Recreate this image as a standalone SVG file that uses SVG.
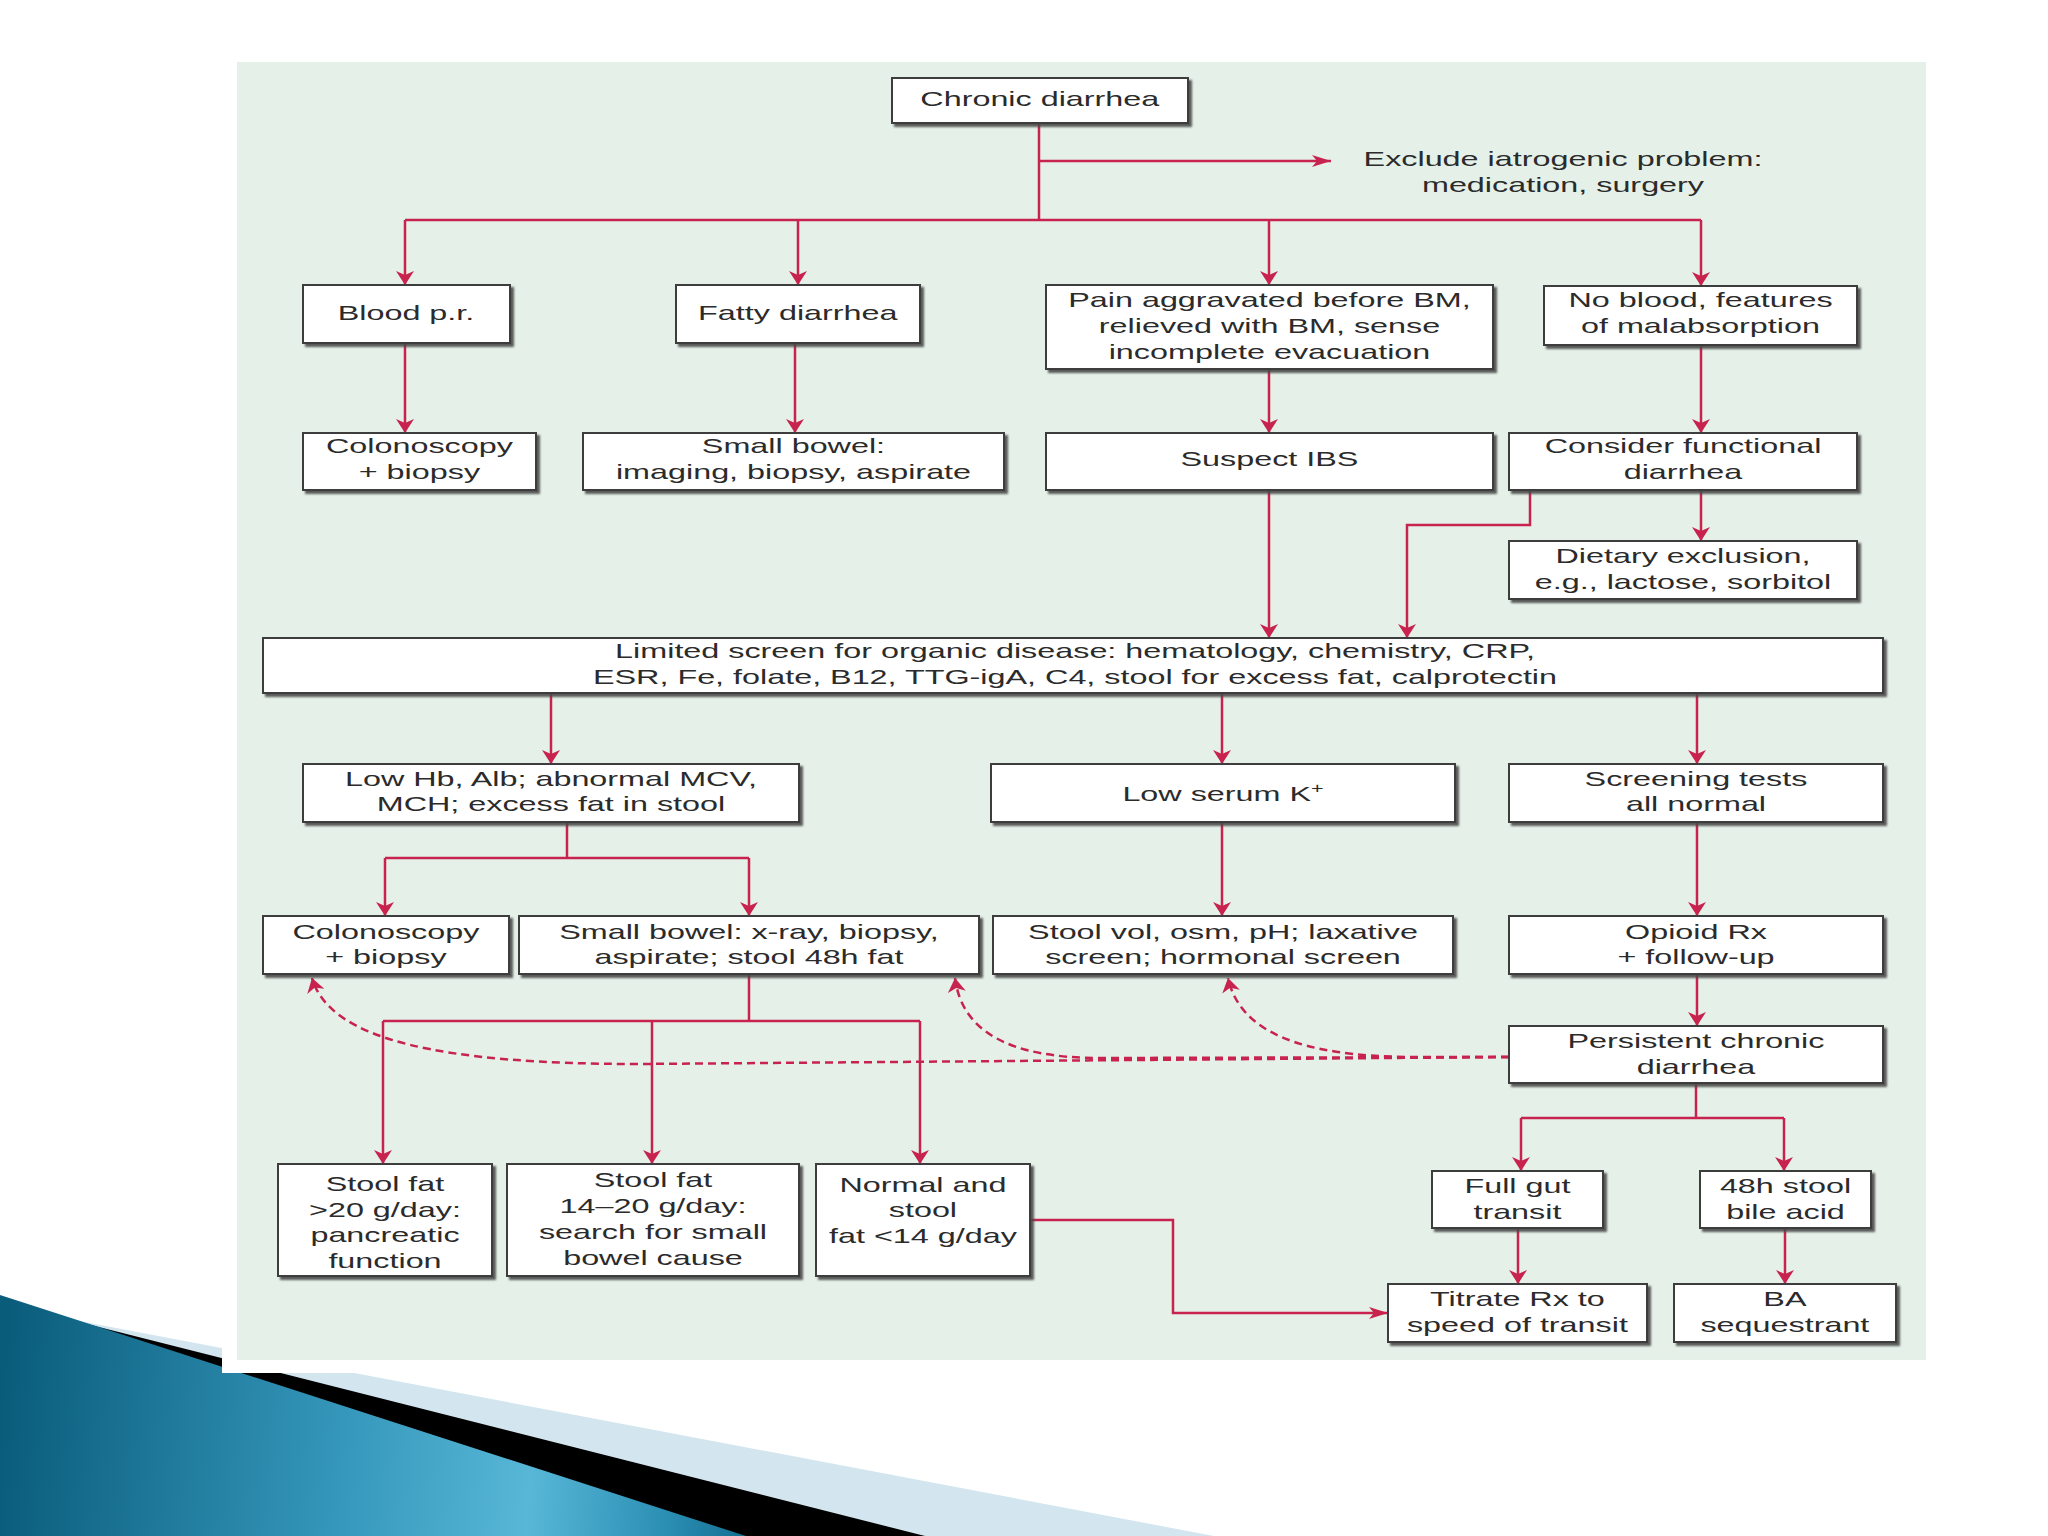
<svg xmlns="http://www.w3.org/2000/svg" width="2048" height="1536" viewBox="0 0 2048 1536">
<defs>
<style>
.t { font-family: "Liberation Sans", Arial, Helvetica, sans-serif; font-size: 21px; fill: #2b2b2b; text-anchor: middle; transform: scaleX(1.54); transform-box: fill-box; transform-origin: center; }
.box { fill: #ffffff; stroke: #3c3c3c; stroke-width: 2; filter: url(#sh); }
.ln { fill: none; stroke: #c8234f; stroke-width: 2.5; }
.arr { fill: none; stroke: #c8234f; stroke-width: 2.5; marker-end: url(#ad); }
.arh { fill: none; stroke: #c8234f; stroke-width: 2.5; marker-end: url(#ah); }
.dash { fill: none; stroke: #c8234f; stroke-width: 2.5; stroke-dasharray: 8 5; marker-end: url(#ad); }
</style>
<filter id="sh" x="-5%" y="-10%" width="115%" height="130%">
<feDropShadow dx="3" dy="3" stdDeviation="1" flood-color="#4a4a4a" flood-opacity="0.9"/>
</filter>
<marker id="ad" viewBox="0 0 14 18" refX="14" refY="9" markerWidth="14" markerHeight="18" markerUnits="userSpaceOnUse" orient="auto">
<path d="M0,0 L14,9 L0,18 L4,9 z" fill="#c8234f"/>
</marker>
<marker id="ah" viewBox="0 0 19 12" refX="19" refY="6" markerWidth="19" markerHeight="12" markerUnits="userSpaceOnUse" orient="auto">
<path d="M0,0 L19,6 L0,12 L5,6 z" fill="#c8234f"/>
</marker>
<linearGradient id="blue" gradientUnits="userSpaceOnUse" x1="0" y1="1420" x2="760" y2="1480">
<stop offset="0" stop-color="#0a5c7b"/>
<stop offset="0.45" stop-color="#3597bb"/>
<stop offset="0.7" stop-color="#58b7d7"/>
<stop offset="0.88" stop-color="#2b8fb4"/>
<stop offset="1" stop-color="#126c8f"/>
</linearGradient>
</defs>

<rect x="0" y="0" width="2048" height="1536" fill="#ffffff"/>

<g id="swoosh">
<polygon points="0,1306 1214,1536 0,1536" fill="#d3e6ef"/>
<polygon points="0,1302 925,1536 0,1536" fill="#000000"/>
<polygon points="0,1295 746,1536 0,1536" fill="url(#blue)"/>
</g>

<rect x="222" y="40" width="1720" height="1333" fill="#ffffff"/>
<rect x="237" y="62" width="1689" height="1298" fill="#e5f1e8"/>

<g id="connectors">
<path class="arh" d="M1039,161 L1331,161"/>
<path class="ln" d="M1039,123 L1039,220 M405,220 L1701,220"/>
<path class="arr" d="M405,220 L405,285"/>
<path class="arr" d="M798,220 L798,285"/>
<path class="arr" d="M1269,220 L1269,285"/>
<path class="arr" d="M1701,220 L1701,286"/>
<path class="arr" d="M405,343 L405,433"/>
<path class="arr" d="M795,343 L795,433"/>
<path class="arr" d="M1269,369 L1269,433"/>
<path class="arr" d="M1701,345 L1701,433"/>
<path class="arr" d="M1701,490 L1701,541"/>
<path class="arr" d="M1269,490 L1269,638"/>
<path class="arr" d="M1530,490 L1530,525 L1407,525 L1407,638"/>
<path class="arr" d="M551,693 L551,764"/>
<path class="arr" d="M1222,693 L1222,764"/>
<path class="arr" d="M1697,693 L1697,764"/>
<path class="ln" d="M567,822 L567,858 M385,858 L749,858"/>
<path class="arr" d="M385,858 L385,916"/>
<path class="arr" d="M749,858 L749,916"/>
<path class="arr" d="M1222,822 L1222,916"/>
<path class="arr" d="M1697,822 L1697,916"/>
<path class="arr" d="M1697,974 L1697,1026"/>
<path class="ln" d="M749,974 L749,1021 M383,1021 L920,1021"/>
<path class="arr" d="M383,1021 L383,1164"/>
<path class="arr" d="M652,1021 L652,1164"/>
<path class="arr" d="M920,1021 L920,1164"/>
<path class="ln" d="M1696,1083 L1696,1118 M1521,1118 L1784,1118"/>
<path class="arr" d="M1521,1118 L1521,1171"/>
<path class="arr" d="M1784,1118 L1784,1171"/>
<path class="arr" d="M1518,1228 L1518,1284"/>
<path class="arr" d="M1785,1228 L1785,1284"/>
<path class="arh" d="M1030,1220 L1173,1220 L1173,1313 L1388,1313"/>
<path class="dash" d="M1509,1057 L1410,1057 C1300,1056 1240,1032 1228,978"/>
<path class="dash" d="M1509,1057 L1100,1058 C1010,1058 962,1032 955,978"/>
<path class="dash" d="M1509,1057 L640,1064 C440,1064 330,1040 312,978"/>
</g>

<g id="n-chronic"><rect class="box" x="892" y="78" width="296" height="45"/><text class="t" x="1040" y="106">Chronic diarrhea</text></g>
<g id="n-exclude"><text class="t" x="1563" y="166"><tspan x="1563">Exclude iatrogenic problem:</tspan><tspan x="1563" dy="26">medication, surgery</tspan></text></g>
<g id="n-blood"><rect class="box" x="303" y="285" width="207" height="58"/><text class="t" x="406" y="320.5">Blood p.r.</text></g>
<g id="n-fatty"><rect class="box" x="676" y="285" width="244" height="58"/><text class="t" x="798" y="320.5">Fatty diarrhea</text></g>
<g id="n-pain"><rect class="box" x="1046" y="285" width="447" height="84"/><text class="t" x="1269.5" y="307"><tspan x="1269.5">Pain aggravated before BM,</tspan><tspan x="1269.5" dy="26">relieved with BM, sense</tspan><tspan x="1269.5" dy="26">incomplete evacuation</tspan></text></g>
<g id="n-noblood"><rect class="box" x="1544" y="286" width="313" height="59"/><text class="t" x="1700.5" y="307"><tspan x="1700.5">No blood, features</tspan><tspan x="1700.5" dy="26">of malabsorption</tspan></text></g>
<g id="n-colon1"><rect class="box" x="303" y="433" width="233" height="57"/><text class="t" x="419.5" y="453.5"><tspan x="419.5">Colonoscopy</tspan><tspan x="419.5" dy="26">+ biopsy</tspan></text></g>
<g id="n-smallbowel1"><rect class="box" x="583" y="433" width="421" height="57"/><text class="t" x="793.5" y="453.5"><tspan x="793.5">Small bowel:</tspan><tspan x="793.5" dy="26">imaging, biopsy, aspirate</tspan></text></g>
<g id="n-ibs"><rect class="box" x="1046" y="433" width="447" height="57"/><text class="t" x="1269.5" y="466.5">Suspect IBS</text></g>
<g id="n-functional"><rect class="box" x="1509" y="433" width="348" height="57"/><text class="t" x="1683" y="453.5"><tspan x="1683">Consider functional</tspan><tspan x="1683" dy="26">diarrhea</tspan></text></g>
<g id="n-dietary"><rect class="box" x="1509" y="541" width="348" height="58"/><text class="t" x="1683" y="563.5"><tspan x="1683">Dietary exclusion,</tspan><tspan x="1683" dy="26">e.g., lactose, sorbitol</tspan></text></g>
<g id="n-limited"><rect class="box" x="263" y="638" width="1620" height="55"/><text class="t" x="1075" y="658.5"><tspan x="1075">Limited screen for organic disease: hematology, chemistry, CRP,</tspan><tspan x="1075" dy="26">ESR, Fe, folate, B12, TTG-igA, C4, stool for excess fat, calprotectin</tspan></text></g>
<g id="n-lowhb"><rect class="box" x="303" y="764" width="496" height="58"/><text class="t" x="551" y="786"><tspan x="551">Low Hb, Alb; abnormal MCV,</tspan><tspan x="551" dy="25.5">MCH; excess fat in stool</tspan></text></g>
<g id="n-lowk"><rect class="box" x="991" y="764" width="464" height="58"/><text class="t" x="1223" y="801">Low serum K<tspan font-size="14" dy="-8">+</tspan></text></g>
<g id="n-screening"><rect class="box" x="1509" y="764" width="374" height="58"/><text class="t" x="1696" y="786"><tspan x="1696">Screening tests</tspan><tspan x="1696" dy="25.5">all normal</tspan></text></g>
<g id="n-colon2"><rect class="box" x="263" y="916" width="246" height="58"/><text class="t" x="386" y="939"><tspan x="386">Colonoscopy</tspan><tspan x="386" dy="25.5">+ biopsy</tspan></text></g>
<g id="n-smallbowel2"><rect class="box" x="519" y="916" width="460" height="58"/><text class="t" x="749" y="939"><tspan x="749">Small bowel: x-ray, biopsy,</tspan><tspan x="749" dy="25.5">aspirate; stool 48h fat</tspan></text></g>
<g id="n-stoolvol"><rect class="box" x="993" y="916" width="460" height="58"/><text class="t" x="1223" y="939"><tspan x="1223">Stool vol, osm, pH; laxative</tspan><tspan x="1223" dy="25.5">screen; hormonal screen</tspan></text></g>
<g id="n-opioid"><rect class="box" x="1509" y="916" width="374" height="58"/><text class="t" x="1696" y="939"><tspan x="1696">Opioid Rx</tspan><tspan x="1696" dy="25.5">+ follow-up</tspan></text></g>
<g id="n-persistent"><rect class="box" x="1509" y="1026" width="374" height="57"/><text class="t" x="1696" y="1048.5"><tspan x="1696">Persistent chronic</tspan><tspan x="1696" dy="25.5">diarrhea</tspan></text></g>
<g id="n-fat20"><rect class="box" x="278" y="1164" width="214" height="112"/><text class="t" x="385" y="1191"><tspan x="385">Stool fat</tspan><tspan x="385" dy="25.7">&gt;20 g/day:</tspan><tspan x="385" dy="25.7">pancreatic</tspan><tspan x="385" dy="25.7">function</tspan></text></g>
<g id="n-fat14"><rect class="box" x="507" y="1164" width="292" height="112"/><text class="t" x="653" y="1187"><tspan x="653">Stool fat</tspan><tspan x="653" dy="26">14–20 g/day:</tspan><tspan x="653" dy="26">search for small</tspan><tspan x="653" dy="26">bowel cause</tspan></text></g>
<g id="n-normal"><rect class="box" x="816" y="1164" width="214" height="112"/><text class="t" x="923" y="1192"><tspan x="923">Normal and</tspan><tspan x="923" dy="25.5">stool</tspan><tspan x="923" dy="25.5">fat &lt;14 g/day</tspan></text></g>
<g id="n-fullgut"><rect class="box" x="1432" y="1171" width="171" height="57"/><text class="t" x="1517.5" y="1193"><tspan x="1517.5">Full gut</tspan><tspan x="1517.5" dy="26">transit</tspan></text></g>
<g id="n-48h"><rect class="box" x="1700" y="1171" width="171" height="57"/><text class="t" x="1785.5" y="1193"><tspan x="1785.5">48h stool</tspan><tspan x="1785.5" dy="26">bile acid</tspan></text></g>
<g id="n-titrate"><rect class="box" x="1388" y="1284" width="259" height="58"/><text class="t" x="1517.5" y="1306.5"><tspan x="1517.5">Titrate Rx to</tspan><tspan x="1517.5" dy="26">speed of transit</tspan></text></g>
<g id="n-ba"><rect class="box" x="1674" y="1284" width="222" height="58"/><text class="t" x="1785" y="1306.5"><tspan x="1785">BA</tspan><tspan x="1785" dy="26">sequestrant</tspan></text></g>
</svg>
